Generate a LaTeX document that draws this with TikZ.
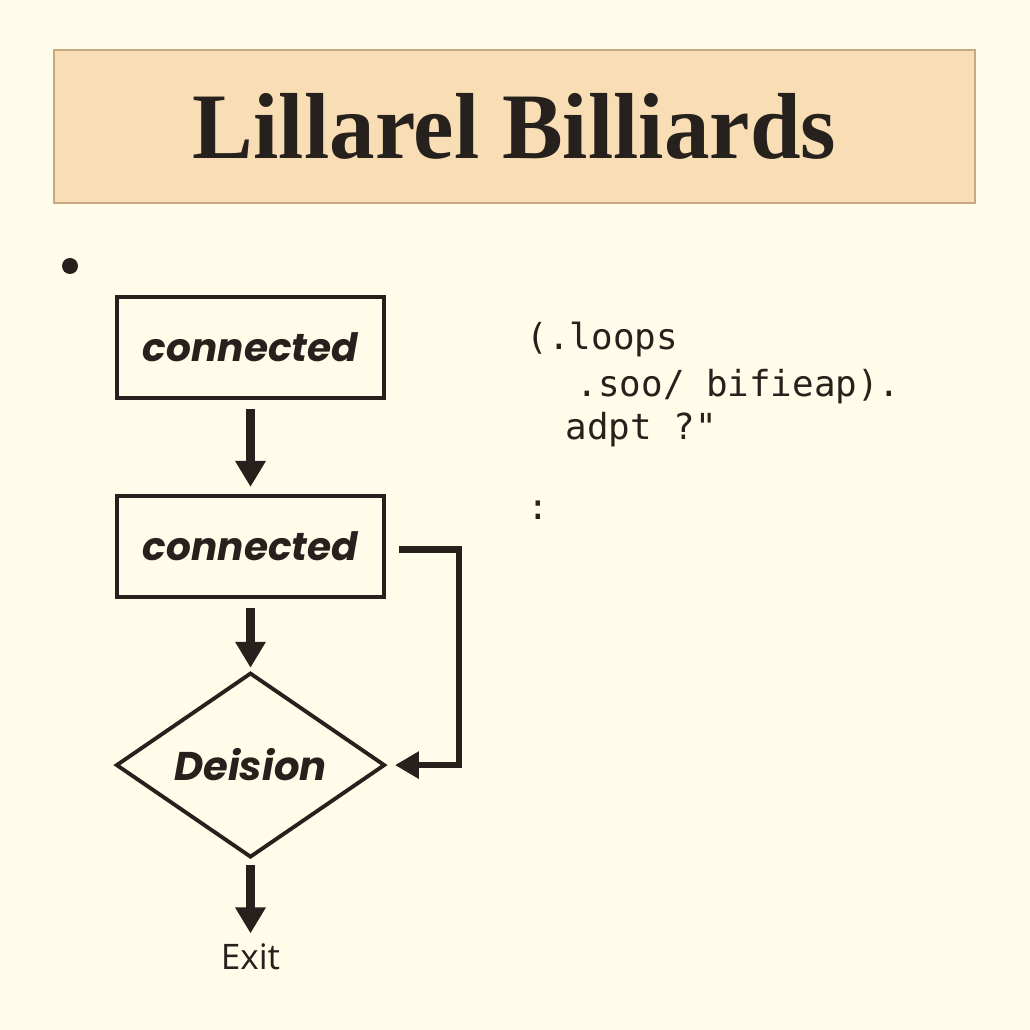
\documentclass[tikz,border=0pt]{standalone}
\usepackage{fontspec}
\usepackage{tikz}
\usepackage{xcolor}
\usetikzlibrary{positioning, arrows.meta, shapes.geometric}
\setmainfont{Liberation Serif}
\newfontfamily\boxfont{Poppins}
\newfontfamily\codefont{DejaVu Sans Mono}
\newfontfamily\exitfont{Open Sans}
\definecolor{fcpaper}{RGB}{255, 253, 233}
\definecolor{fcpeach}{RGB}{249, 222, 181}
\definecolor{fctan}{RGB}{200, 168, 128}
\definecolor{fcink}{RGB}{38, 33, 28}
\tikzset{
    titlebox/.style={rectangle, draw=fctan, line width=0.5pt, fill=fcpeach, minimum width=9.21cm, minimum height=1.53cm, text=fcink, font=\fontsize{26.7}{30}\selectfont\bfseries},
    procbox/.style={rectangle, draw=fcink, line width=1.1pt, minimum width=2.67cm, minimum height=1.01cm, text=fcink, font=\boxfont\fontsize{11.1}{13}\selectfont\bfseries\itshape},
    decnode/.style={diamond, draw=fcink, line width=1.1pt, minimum width=2.69cm, minimum height=1.82cm, inner sep=0pt, text=fcink, font=\boxfont\fontsize{11.4}{13}\selectfont\bfseries\itshape},
    exitlabel/.style={inner sep=0pt, text=fcink, font=\exitfont\fontsize{10}{12}\selectfont},
    codeline/.style={anchor=base west, inner sep=0pt, text=fcink, font=\codefont\fontsize{10.2}{12}\selectfont},
    flowarrow/.style={draw=fcink, line width=2.3pt, -{Triangle[width=0.29cm, length=0.26cm]}, shorten <=0.09cm, shorten >=0.07cm},
    looparrow/.style={draw=fcink, line width=1.9pt, -{Triangle[width=0.26cm, length=0.24cm]}}
}
\begin{document}
\begin{tikzpicture}
    \fill[fcpaper] (0,0) rectangle (10.30,10.30);
    \useasboundingbox (0,0) rectangle (10.30,10.30);
    % heading
    \node[titlebox] (title) at (5.145,9.035) {\scalebox{0.97}[1]{Lillarel Billiards}};
    \node[circle, fill=fcink, inner sep=0pt, minimum size=0.16cm] (bullet) at (0.70,7.64) {};
    % flow
    \node[procbox] (conn1) at (2.505,6.825) {connected};
    \node[procbox, below=0.94cm of conn1] (conn2) {connected};
    \node[decnode, below=0.72cm of conn2] (dec) {Deision};
    \node[exitlabel, below=0.84cm of dec] (exit) {Exit};
    \draw[flowarrow] (conn1) -- (conn2);
    \draw[flowarrow, shorten >=0.03cm] (conn2) -- (dec);
    \draw[flowarrow, shorten <=0.06cm, shorten >=0.1cm] (dec) -- (exit);
    \draw[looparrow] ([xshift=0.13cm, yshift=-0.03cm]conn2.east) -- ++(0.60,0) |- ([xshift=0.08cm]dec.east);
    % side notes
    \node[codeline] (note1) at (5.26,6.80) {(.loops};
    \node[codeline] (note2) at (5.76,6.33) {.soo/ bifieap).};
    \node[codeline] (note3) at (5.65,5.90) {adpt ?"};
    \node[codeline] (note4) at (5.27,5.10) {:};
\end{tikzpicture}
\end{document}
